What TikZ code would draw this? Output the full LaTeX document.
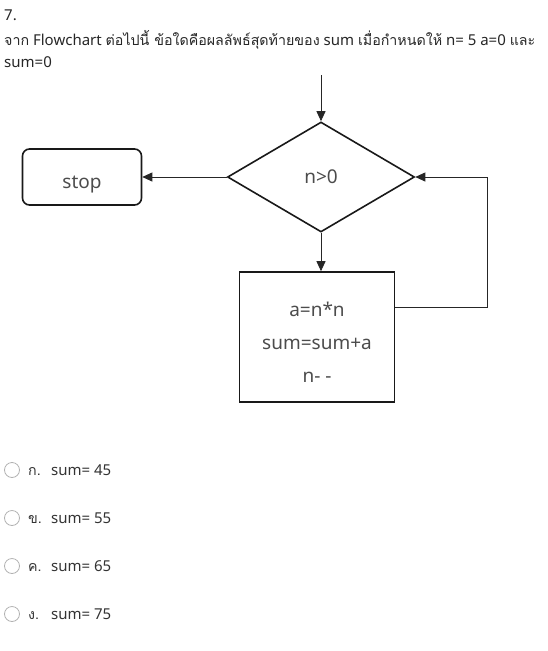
\documentclass[tikz,border=0pt]{standalone}
\usepackage{fontspec}
\setmainfont{Noto Sans}
\newfontfamily\thaifont[Script=Thai,Scale=0.95]{Loma}
\usetikzlibrary{shapes.geometric,positioning,arrows.meta}

\begin{document}
\begin{tikzpicture}[x=1pt,y=-1pt,node distance=160pt,on grid,
  line/.style={draw=black!85,line width=0.9pt},
  arrow/.style={line,-{Triangle[length=10pt,width=9pt]}},
  decision/.style={diamond,draw=black!90,line width=1.6pt,minimum width=187pt,minimum height=110pt,inner sep=0pt,font=\fontsize{19}{23}\selectfont,text=black!70},
  process/.style={rectangle,draw=black!90,line width=1.6pt,minimum width=155pt,minimum height=130pt,font=\fontsize{19}{33}\selectfont,text=black!70},
  terminal/.style={rectangle,rounded corners=7pt,draw=black!90,line width=1.6pt,minimum width=119pt,minimum height=56pt,font=\fontsize{19}{23}\selectfont,text=black!70},
  question/.style={anchor=base west,inner sep=0pt,font=\fontsize{15}{18}\selectfont,text=black!85},
  choice/.style={anchor=base west,inner sep=0pt,font=\fontsize{15}{18}\selectfont,text=black!80},
  radio/.style={circle,draw=black!30,line width=0.8pt,minimum size=15pt,inner sep=0pt}]
\useasboundingbox (0,0) rectangle (547,651);

% question
\node[question] (qnum) at (4,20) {7.};
\node[question] (qtext) at (4,45) {{\thaifont จาก} Flowchart {\thaifont ต่อไปนี้ ข้อใดคือผลลัพธ์สุดท้ายของ} sum {\thaifont เมื่อกำหนดให้} n= 5 a=0 {\thaifont และ}};
\node[question] (qsum) at (4,67) {sum=0};

% flowchart
\coordinate (start) at (321,75);
\node[decision] (cond) at (321,177) {n>0};
\node[process] (body) [below=160pt of cond,xshift=-4pt] {\smash{\raisebox{-10pt}{\begin{tabular}{@{}c@{}}a=n*n\\sum=sum+a\\n- -\end{tabular}}}};
\node[terminal] (stop) [left=239pt of cond] {\smash{\raisebox{-11pt}{stop}}};
\coordinate (back) at (487,307);

\draw[arrow] (start) -- (cond.north);
\draw[arrow] (cond.west) -- (stop.east);
\draw[arrow] (cond.south) -- (cond.south |- body.north);

% loop back
\draw[arrow] (body.east |- back) -- (back) |- (cond.east);

% answers
\foreach \key/\val [count=\i] in {ก/45,ข/55,ค/65,ง/75} {
  \node[radio] (radio\i) at (12,422+48*\i) {};
  \node[choice] (key\i) at (28,427+48*\i) {\thaifont \key.};
  \node[choice] (opt\i) at (51,427+48*\i) {sum= \val};
}
\end{tikzpicture}
\end{document}
